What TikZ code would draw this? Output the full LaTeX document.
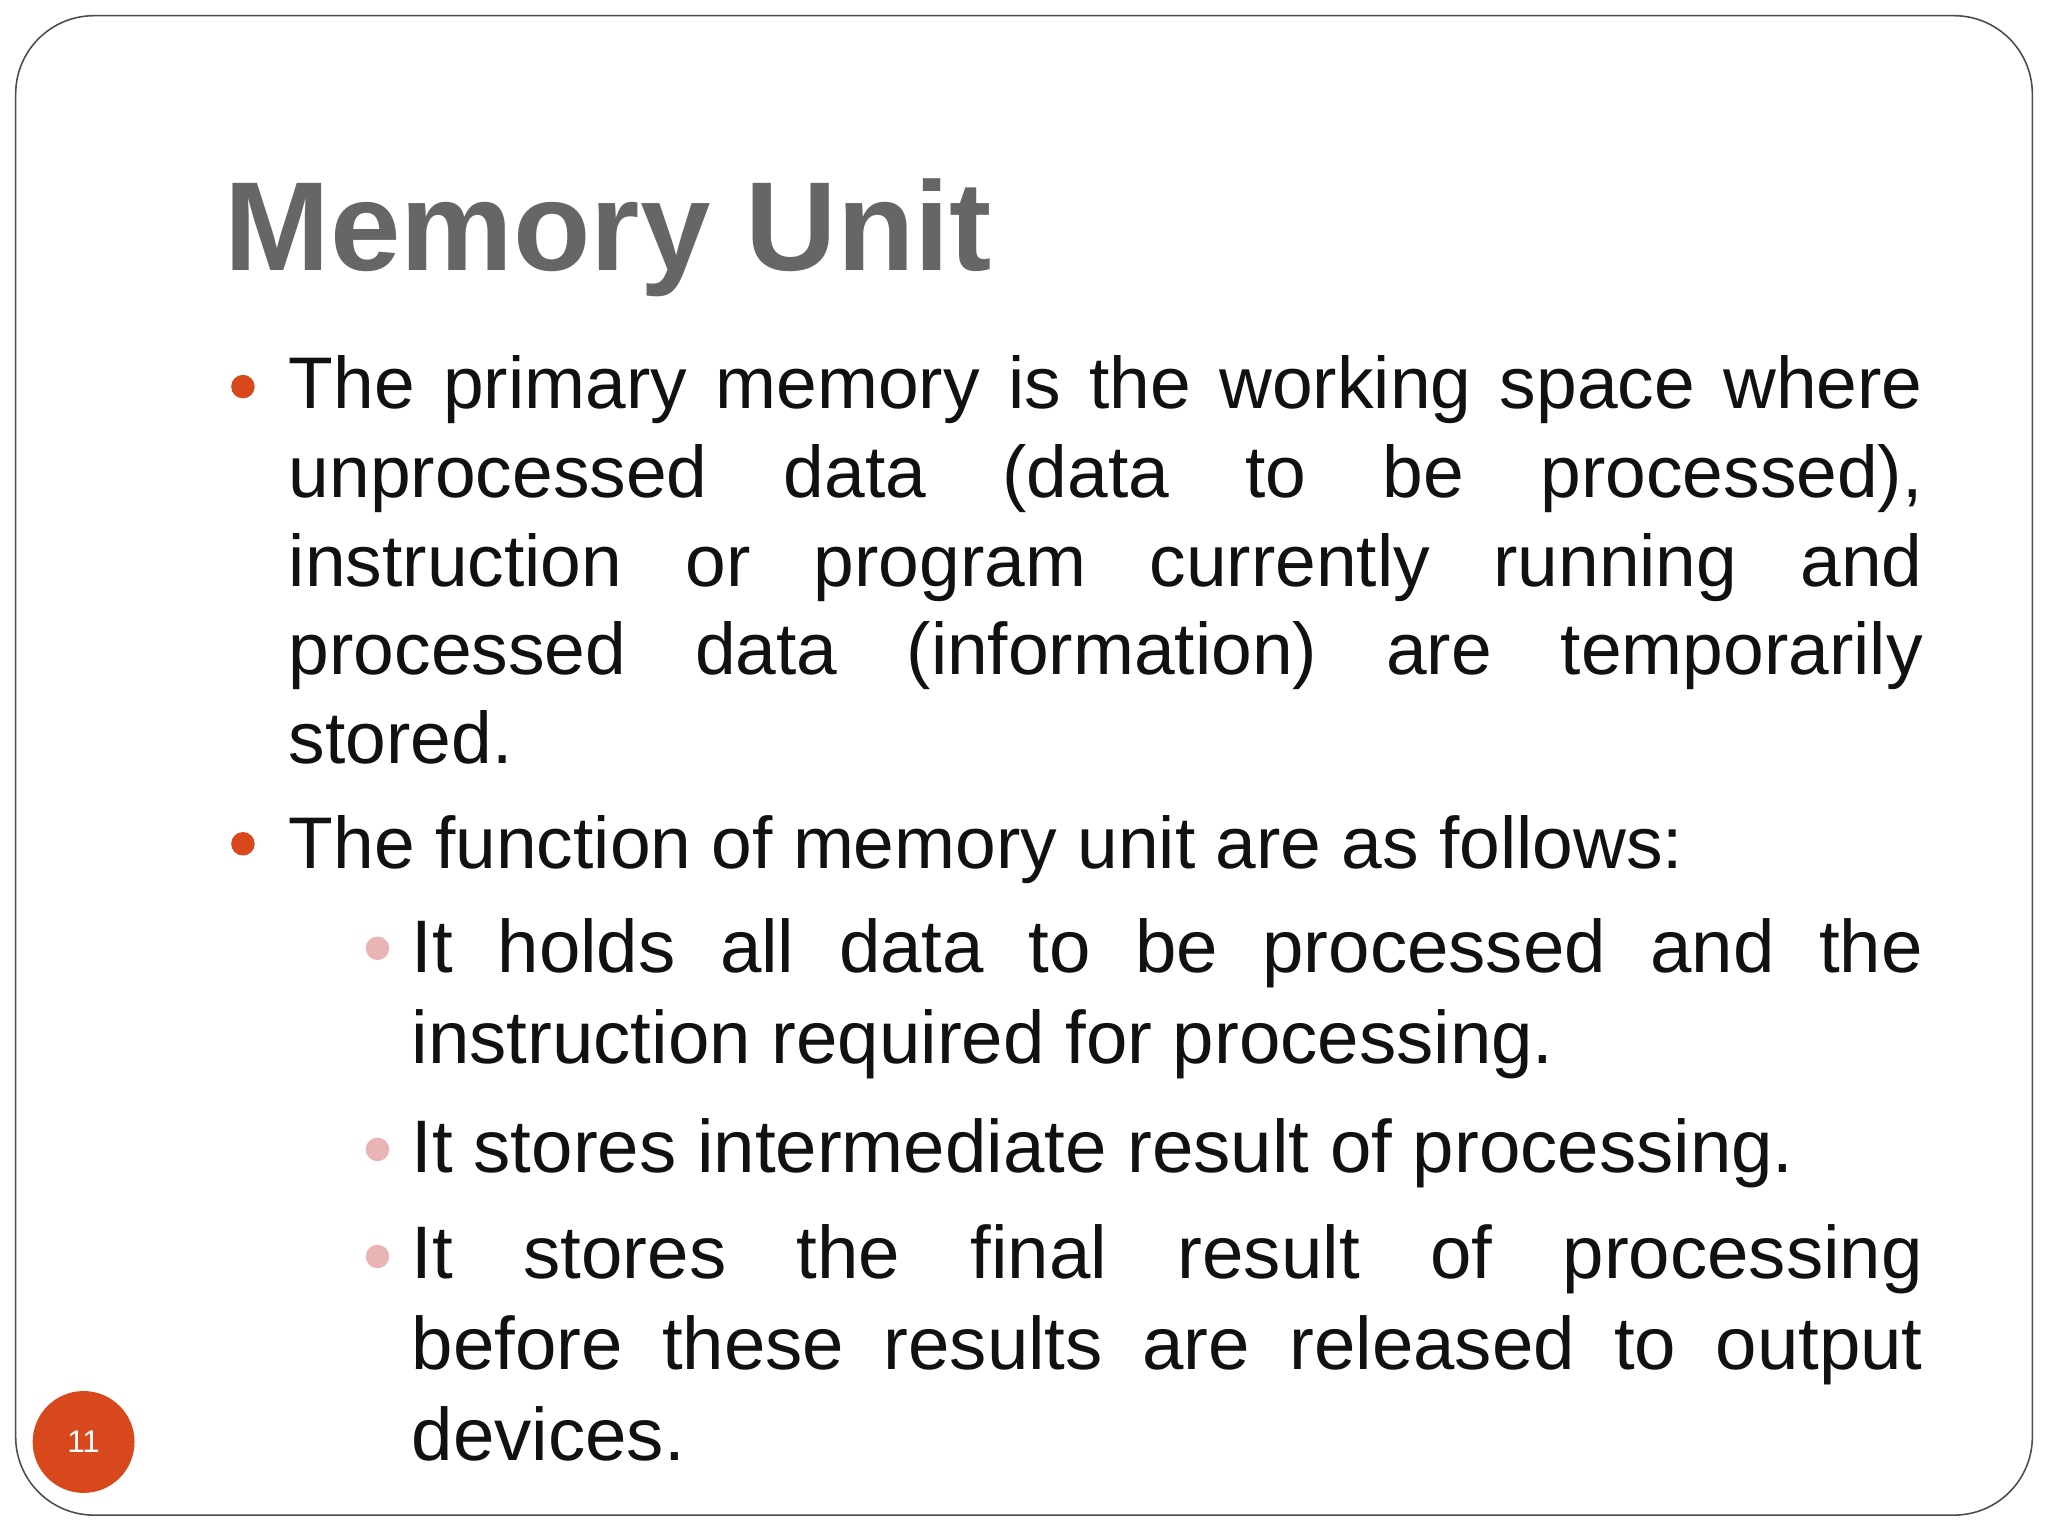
\documentclass[tikz,border=0pt]{standalone}
\usepackage{fontspec}
\setmainfont{Liberation Sans}
\definecolor{dotred}{HTML}{D9481C}
\definecolor{dotpink}{HTML}{E8B4B4}
\definecolor{titlegray}{HTML}{666666}
\definecolor{txt}{HTML}{111111}
\begin{document}
\begin{tikzpicture}[x=1pt,y=-1pt,
  body/.style={inner sep=0pt,text=txt,font=\fontsize{56}{68}\selectfont,align=justify},
  subbody/.style={inner sep=0pt,text=txt,font=\fontsize{57}{70}\selectfont,align=justify},
  dotA/.style={circle,fill=dotred,minimum size=18pt,inner sep=0pt},
  dotB/.style={circle,fill=dotpink,minimum size=18pt,inner sep=0pt}]
\useasboundingbox (0,0) rectangle (1568,1176);
\fill[white] (0,0) rectangle (1568,1176);
\draw[fill=white,draw=black!70,line width=1.2pt,rounded corners=60pt] (12,12) rectangle (1556,1160);
\node[anchor=base west,inner sep=0pt,text=titlegray,font=\fontsize{97}{100}\selectfont\bfseries] (title) at (172,207) {Memory Unit};
\node[dotA] (d1) at (186,296) {};
\node[body,anchor=north west,text width=1251pt] (p1) at (221,272) {The primary memory is the working space where\linebreak unprocessed data (data to be processed),\linebreak instruction or program currently running and\linebreak processed data (information) are temporarily\linebreak stored.};
\node[dotA] (d2) at (186,646) {};
\node[anchor=base west,inner sep=0pt,text=txt,font=\fontsize{56}{68}\selectfont] (p2) at (221,665) {The function of memory unit are as follows:};
\node[dotB] (s1) at (289,726) {};
\node[subbody,anchor=north west,text width=1157pt] (q1) at (315,703) {It holds all data to be processed and the\linebreak instruction required for processing.};
\node[dotB] (s2) at (289,880) {};
\node[anchor=base west,inner sep=0pt,text=txt,font=\fontsize{57}{70}\selectfont] (q2) at (315,898) {It stores intermediate result of processing.};
\node[dotB] (s3) at (289,962) {};
\node[subbody,anchor=north west,text width=1157pt] (q3) at (315,937) {It stores the final result of processing\linebreak before these results are released to output\linebreak devices.};
\node[circle,fill=dotred,minimum size=78pt,inner sep=0pt,text=white,font=\fontsize{24}{26}\selectfont] (pg) at (64,1104) {11};
\end{tikzpicture}
\end{document}
